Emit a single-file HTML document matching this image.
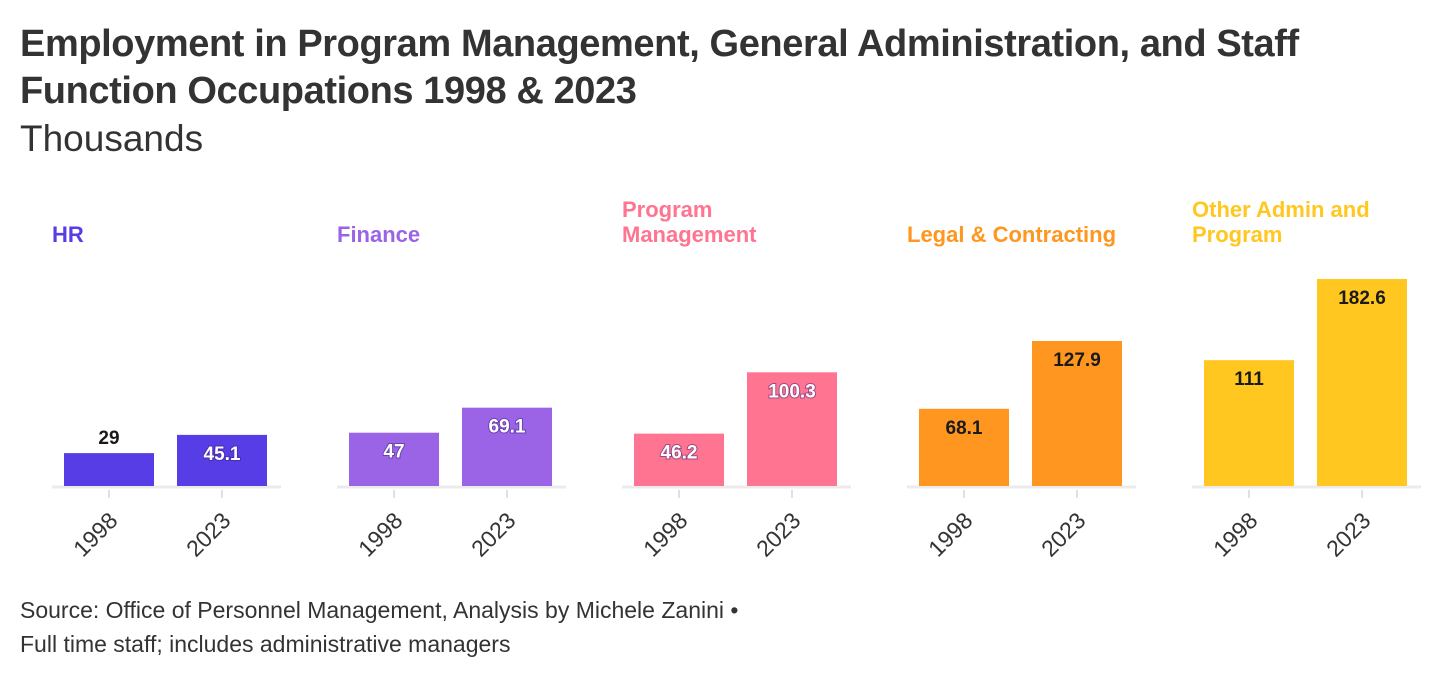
<!DOCTYPE html>
<html><head><meta charset="utf-8"><style>
body{margin:0;width:1456px;height:675px;background:#fff;font-family:"Liberation Sans",sans-serif;overflow:hidden;position:relative}
.t{position:absolute;left:20px;color:#333;font-weight:bold;font-size:38px;line-height:47px;top:21px;letter-spacing:-0.4px;white-space:nowrap}
.s{position:absolute;left:20px;top:118px;font-size:37px;color:#333}
.src{position:absolute;left:20px;top:593px;font-size:23px;line-height:34px;color:#333}
</style></head><body>
<div class="t">Employment in Program Management, General Administration, and Staff<br>Function Occupations 1998 &amp; 2023</div>
<div class="s">Thousands</div>
<svg id="c" width="1456" height="675" style="position:absolute;left:0;top:0"></svg>
<div class="src">Source: Office of Personnel Management, Analysis by Michele Zanini •<br>Full time staff; includes administrative managers</div>
<script>
const categories=["HR","Finance","Program Management","Legal & Contracting","Other Admin and Program"];
const titleLines=[["HR"],["Finance"],["Program","Management"],["Legal & Contracting"],["Other Admin and","Program"]];
const years=["1998","2023"];
const values1998=[29,47,46.2,68.1,111];
const values2023=[45.1,69.1,100.3,127.9,182.6];
const colors=["#573de6","#9b64e6","#ff7490","#ff961f","#ffc71f"];
const labelInside=[[false,true],[true,true],[true,true],[true,true],[true,true]];
const labelWhite=[[false,true],[true,true],[true,true],[false,false],[false,false]];
const NS="http://www.w3.org/2000/svg";
const svg=document.getElementById('c');
const base=486, k=207/182.6;
const y=v=>base-v*k;
const panelX=i=>52+i*285;
function mk(t,a){const e=document.createElementNS(NS,t);for(const n in a)e.setAttribute(n,a[n]);svg.appendChild(e);return e;}
categories.forEach((c,i)=>{
  const px=panelX(i);
  const tl=titleLines[i];
  const tt=mk('text',{x:px,y:tl.length>1?217:242,fill:colors[i],'font-size':22,'font-weight':'bold'});
  
  
  tl.forEach((l,j)=>{const ts=document.createElementNS(NS,'tspan');ts.setAttribute('x',px);if(j)ts.setAttribute('dy',25);ts.textContent=l;tt.appendChild(ts);});
  const ax=mk('line',{x1:px,x2:px+229,y1:base+1,y2:base+1,stroke:'#ebebeb','stroke-width':3});
  
  
  [values1998[i],values2023[i]].forEach((v,j)=>{
    const bx=px+12+j*113, cx=bx+45;
    const r=mk('rect',{x:bx,y:y(v),width:90,height:base-y(v),fill:colors[i]});
    
    
    const white=labelWhite[i][j];
    const ly=labelInside[i][j]?y(v)+25:y(v)-9;
    const lb=mk('text',{x:cx,y:ly,'text-anchor':'middle','font-size':19,'font-weight':'bold',fill:white?'#fff':'#1a1a1a'});
    if(white){lb.setAttribute('stroke','rgba(60,30,120,0.5)');lb.setAttribute('stroke-width','2');lb.setAttribute('paint-order','stroke');}
    lb.textContent=v;
    
    
    const tk=mk('line',{x1:cx,x2:cx,y1:base+4,y2:base+12,stroke:'#e0e0e0','stroke-width':2});
    
    
    const tx=mk('text',{x:cx+10,y:base+36,'text-anchor':'end','font-size':23,fill:'#333',transform:`rotate(-45 ${cx+10} ${base+36})`});
    tx.textContent=years[j];
    
    
  });
});
</script>
</body></html>
